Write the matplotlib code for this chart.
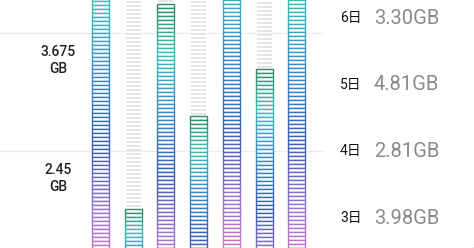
import matplotlib.pyplot as plt
from matplotlib.patches import Rectangle, Circle
from matplotlib.colors import LinearSegmentedColormap

plt.rcParams['font.family'] = ['Roboto', 'Noto Sans CJK SC', 'DejaVu Sans']

# daily usage in GB, 1日..7日 (first and last bars are cut off at the top)
days = ['1日', '2日', '3日', '4日', '5日', '6日', '7日']
usage = [4.55, 1.85, 3.98, 2.81, 4.81, 3.30, 4.60]

# y-axis grid levels and their labels
grid_vals = [3.675, 2.45]
grid_labels = ['3.675', '2.45']

# list on the right side
list_days = ['6日', '5日', '4日', '3日']
list_vals = ['3.30GB', '4.81GB', '2.81GB', '3.98GB']

W, H = 474, 248
fig = plt.figure(figsize=(W / 100, H / 100), dpi=100)
ax = fig.add_axes([0, 0, 1, 1])
ax.axis('off')

px_per_gb = 118 / 1.225
px_per_bar = 32.72
x0 = 100.5  # pixel center of first bar
zero_px = 387
ax.set_xlim(-x0 / px_per_bar, (W - x0) / px_per_bar)
ax.set_ylim((zero_px - H) / px_per_gb, zero_px / px_per_gb)

grad = LinearSegmentedColormap.from_list('g', [
    (0.0, '#2f8a6a'), (0.12, '#3cbfb5'), (0.28, '#3d8ac4'),
    (0.45, '#3b5fb2'), (0.6, '#9a74c8'), (0.75, '#d87cc2'), (1.0, '#e47fb8')])

seg = 4 / px_per_gb
bw = 17 / px_per_bar
top = zero_px / px_per_gb + 0.2

# grid lines with their labels below
for gv, gl in zip(grid_vals, grid_labels):
    ax.plot([-x0 / px_per_bar, (323 - x0) / px_per_bar], [gv, gv],
            color='#ececec', lw=0.8, zorder=0)
    lx = (58 - x0) / px_per_bar
    ax.text(lx, gv - 19 / px_per_gb, gl, ha='center', va='center',
            fontsize=10, color='#222222', fontweight='medium')
    ax.text(lx, gv - 36 / px_per_gb, 'GB', ha='center', va='center',
            fontsize=10, color='#222222', fontweight='medium')

for i, v in enumerate(usage):
    # grey background stripes up to the top
    y = v
    while y < top:
        ax.plot([i - bw / 2 + 0.03, i + bw / 2 - 0.03], [y + seg * 0.6, y + seg * 0.6],
                color='#e2e2e2', lw=1.2, zorder=1, solid_capstyle='butt')
        y += seg
    # striped colored bar
    n = int(round(v / seg))
    for k in range(n):
        yb = v - (k + 1) * seg
        c = grad(k / max(n - 1, 1))
        ax.add_patch(Rectangle((i - bw / 2, yb), bw, seg, facecolor='white',
                               edgecolor=c, lw=1.0, zorder=2))

# right-side list
for j, (d, val) in enumerate(zip(list_days, list_vals)):
    yy = 1 - (18 + j * 66.7) / H
    fig.text(340 / W, yy, d, ha='left', va='center', fontsize=10,
             color='#111111')
    fig.text(374 / W, yy, val, ha='left', va='center', fontsize=14.5,
             color='#8a8a8a')

# partially visible button at the bottom-right corner
fig.patches.append(Circle((484 / W, -6 / H), 16 / W, transform=fig.transFigure,
                          facecolor='#9fb8d8', edgecolor='none'))

fig.savefig('out.png', dpi=100, facecolor='white')
